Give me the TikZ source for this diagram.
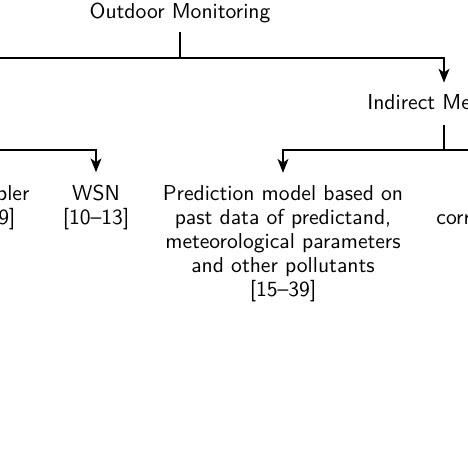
\documentclass[tikz,border=0pt]{standalone}
\usetikzlibrary{arrows.meta}
\begin{document}
\begin{tikzpicture}[x=0.46296pt,y=-0.46296pt,
  lbl/.style={font=\sffamily\fontsize{10pt}{11.1pt}\selectfont, inner sep=0pt, align=center},
  conn/.style={line width=0.85pt},
  arr/.style={conn,-{Stealth[length=6.4pt,width=5pt,inset=1.7pt]}}]
\useasboundingbox (0,0) rectangle (468,468);
\clip (0,0) rectangle (468,468);
\node[lbl,anchor=base] (om) at (180,18.3) {Outdoor Monitoring};
\node[lbl,anchor=base] (ind) at (444,109.3) {Indirect Methods};
\node[lbl,anchor=base] (pred) at (283,296.7) {Prediction model based on\\past data of predictand,\\meteorological parameters\\and other pollutants\\{[15--39]}};
\node[lbl,anchor=base] (wsn) at (96,224.7) {WSN\\{[10--13]}};
\node[lbl,anchor=base] (samp) at (-7,224.7) {Sampler\\{[7--9]}};
\node[lbl,anchor=base west] (corr) at (436,224.7) {correlation};
\coordinate (j1) at (180,58);
\coordinate (dm) at (-84,82.7);
\coordinate (dmj) at (-84,150);
\coordinate (j2) at (444,150);
\coordinate (corrtop) at (600,173);
\draw[conn,shorten <=4.3pt] (om.south) -- (om.south |- j1);
\draw[arr,shorten >=5.2pt] (j1) -| (ind);
\draw[arr] (j1) -| (dm);
\draw[conn,shorten <=6.8pt] (ind.south) -- (j2);
\draw[arr,shorten >=5.8pt] (j2) -| (pred);
\draw[arr] (j2) -| (corrtop);
\draw[arr,shorten >=5.8pt] (dmj) -| (wsn);
\draw[arr,shorten >=5.8pt] (dmj) -| (samp);
\end{tikzpicture}
\end{document}
